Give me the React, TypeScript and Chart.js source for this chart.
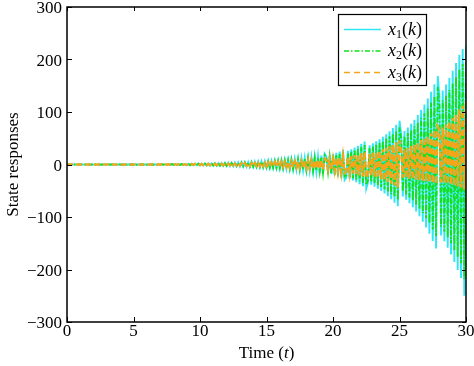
import React, { useEffect, useRef } from "react";
import { Chart, registerables } from "chart.js";

Chart.register(...registerables);

// sampling interval of the simulated discrete signals (time units)
const SAMPLE_STEP = 0.125;

const X_TICKS = [0, 5, 10, 15, 20, 25, 30];
const Y_TICKS = [-300, -200, -100, 0, 100, 200, 300];

// x1(k)
const x1Values = [
  0, 0.2, -0.2, 0.3, -0.3, 0.2, -0.2, 0.3,
  -0.3, 0.2, -0.3, 0.3, -0.2, 0.3, -0.3, 0.2,
  -0.3, 0.3, -0.2, 0.3, -0.3, 0.3, -0.3, 0.2,
  -0.3, 0.4, -0.3, 0.3, -0.4, 0.3, -0.4, 0.4,
  -0.3, 0.4, -0.4, 0.3, -0.4, 0.4, -0.3, 0.4,
  -0.4, 0.5, -0.4, 0.4, -0.5, 0.4, -0.5, 0.5,
  -0.4, 0.5, -0.5, 0.6, -0.5, 0.5, -0.6, 0.5,
  -0.6, 0.7, -0.6, 0.6, -0.7, 0.6, -0.7, 0.8,
  -0.7, 0.8, -0.9, 0.8, -0.9, 1.0, -0.8, 0.9,
  -1.2, 1.3, -1.3, 1.4, -1.4, 1.5, -1.5, 1.6,
  -1.6, 1.7, -1.7, 1.9, -1.8, 2.0, -1.9, 2.1,
  -2.2, 2.4, -2.3, 2.5, -2.4, 2.7, -2.6, 2.8,
  -2.9, 3.1, -3.0, 3.3, -3.2, 3.6, -3.4, 3.8,
  -3.7, 4.0, -3.9, 4.3, -4.1, 4.6, -4.4, 4.9,
  -4.8, 5.2, -5.0, 5.5, -5.3, 5.9, -5.6, 6.2,
  -6.1, 6.6, -6.4, 7.0, -6.7, 7.4, -7.1, 7.8,
  -7.6, 8.3, -8.0, 8.8, -8.4, 9.3, -8.9, 9.8,
  -9.5, 10.4, -10.0, 11.0, -10.6, 11.7, -11.2, 12.3,
  -12.0, 13.0, -12.6, 13.8, -13.3, 14.6, -14.1, 15.5,
  -15.5, 17.0, -18.0, 20.5, 15.5, -16.5, 17.5, -18.6,
  19.7, -20.9, 22.1, -23.4, 24.8, -26.3, 27.9, -29.6,
  -25.0, 26.3, -27.7, 29.1, -30.6, 32.2, -33.9, 35.7,
  -37.5, 39.5, -41.5, 43.7, -46.0, -35.0, 36.7, -38.4,
  40.2, -42.1, 44.0, -46.1, 48.2, -50.5, 52.8, -55.3,
  57.8, -60.5, 63.3, -66.3, 69.3, -72.6, 75.9, -79.5,
  83.2, 58.0, -60.9, 63.9, -67.0, 70.4, -73.9, 77.5,
  -81.4, 85.4, -89.6, 94.1, -98.7, 103.6, -108.8, 114.2,
  -119.8, 125.8, -132.0, 138.6, -145.5, 152.7, -160.2, 168.2,
  130.0, -135.3, 140.7, -146.4, 152.3, -158.5, 164.9, -171.5,
  178.4, -185.6, 193.1, -200.9, 209.0, -216.0, 220.0, -250.0,
  226.0,
];

// x2(k)
const x2Values = [
  0, 0.2, -0.2, 0.2, -0.2, 0.3, -0.2, 0.2,
  -0.2, 0.3, -0.2, 0.2, -0.3, 0.2, -0.2, 0.3,
  -0.2, 0.2, -0.3, 0.2, -0.2, 0.3, -0.2, 0.3,
  -0.3, 0.3, -0.2, 0.3, -0.3, 0.3, -0.3, 0.3,
  -0.3, 0.3, -0.3, 0.4, -0.3, 0.3, -0.4, 0.3,
  -0.3, 0.4, -0.4, 0.3, -0.4, 0.4, -0.4, 0.4,
  -0.4, 0.4, -0.5, 0.4, -0.5, 0.5, -0.4, 0.5,
  -0.5, 0.6, -0.5, 0.6, -0.6, 0.5, -0.6, 0.7,
  -0.6, 0.7, -0.7, 0.8, -0.7, 0.8, -0.8, 0.8,
  -1.0, 1.1, -1.1, 1.2, -1.2, 1.3, -1.3, 1.4,
  -1.4, 1.5, -1.5, 1.6, -1.6, 1.7, -1.7, 1.8,
  -1.9, 2.0, -2.0, 2.2, -2.0, 2.3, -2.2, 2.4,
  -2.4, 2.7, -2.6, 2.8, -2.7, 3.0, -2.9, 3.2,
  -3.2, 3.4, -3.3, 3.7, -3.5, 3.9, -3.8, 4.1,
  -4.1, 4.4, -4.3, 4.6, -4.5, 5.0, -4.8, 5.3,
  -5.2, 5.6, -5.4, 6.0, -5.7, 6.3, -6.0, 6.6,
  -6.5, 7.0, -6.8, 7.5, -7.1, 7.9, -7.6, 8.3,
  -8.1, 8.8, -8.5, 9.3, -9.0, 9.9, -9.5, 10.5,
  -10.2, 11.0, -10.7, 11.7, -11.3, 12.4, -12.0, 13.2,
  -13.2, 14.5, -15.3, 17.4, 13.2, -14.0, 14.9, -15.8,
  16.7, -17.8, 18.8, -19.9, 21.1, -22.4, 23.7, -25.2,
  -21.3, 22.4, -23.5, 24.7, -26.0, 27.4, -28.8, 30.3,
  -31.9, 33.6, -35.3, 37.1, -39.1, -29.8, 31.2, -32.6,
  34.2, -35.8, 37.4, -39.2, 41.0, -42.9, 44.9, -47.0,
  49.1, -51.4, 53.8, -56.4, 58.9, -61.7, 64.5, -67.6,
  70.7, 49.3, -51.8, 54.3, -57.0, 59.8, -62.8, 65.9,
  -69.2, 72.6, -76.2, 80.0, -83.9, 88.1, -92.5, 97.1,
  -101.8, 106.9, -112.2, 117.8, -123.7, 129.8, -136.2, 148.0,
  112.0, -118.0, 122.0, -128.0, 131.0, -139.0, 142.0, -150.0,
  154.0, -163.0, 167.0, -176.0, 181.0, -188.0, 192.0, -218.0,
  205.0,
];

// x3(k)
const x3Values = [
  0, 0.1, -0.1, 0.2, -0.1, 0.1, -0.2, 0.1,
  -0.1, 0.2, -0.1, 0.1, -0.2, 0.1, -0.1, 0.2,
  -0.2, 0.1, -0.2, 0.2, -0.1, 0.2, -0.2, 0.1,
  -0.2, 0.2, -0.2, 0.2, -0.2, 0.2, -0.2, 0.2,
  -0.2, 0.2, -0.2, 0.3, -0.2, 0.2, -0.3, 0.2,
  -0.2, 0.3, -0.3, 0.2, -0.3, 0.3, -0.3, 0.3,
  -0.3, 0.3, -0.3, 0.3, -0.4, 0.3, -0.3, 0.4,
  -0.3, 0.4, -0.4, 0.4, -0.4, 0.4, -0.4, 0.5,
  -0.4, 0.5, -0.5, 0.5, -0.5, 0.5, -0.5, 0.6,
  -0.7, 0.7, -0.7, 0.8, -0.8, 0.8, -0.9, 0.9,
  -0.9, 1.0, -1.0, 1.1, -1.0, 1.2, -1.1, 1.2,
  -1.2, 1.3, -1.3, 1.4, -1.3, 1.5, -1.4, 1.5,
  -1.6, 1.7, -1.7, 1.8, -1.8, 2.0, -1.9, 2.1,
  -2.0, 2.2, -2.1, 2.4, -2.3, 2.5, -2.4, 2.7,
  -2.6, 2.9, -2.8, 3.0, -2.9, 3.2, -3.1, 3.4,
  -3.4, 3.6, -3.5, 3.9, -3.7, 4.1, -3.9, 4.3,
  -4.2, 4.6, -4.4, 4.8, -4.6, 5.1, -4.9, 5.4,
  -5.2, 5.7, -5.5, 6.0, -5.8, 6.4, -6.2, 6.8,
  -6.6, 7.2, -6.9, 7.6, -7.3, 8.0, -7.8, 8.5,
  -8.5, 9.4, -9.9, 11.3, 8.5, -9.1, 9.6, -10.2,
  10.8, -11.5, 12.2, -12.9, 13.6, -14.5, 15.3, -16.3,
  -13.8, 14.5, -15.2, 16.0, -16.8, 17.7, -18.6, 19.6,
  -20.6, 21.7, -22.8, 24.0, -25.3, -19.3, 20.2, -21.1,
  22.1, -23.2, 24.2, -25.4, 26.5, -27.8, 29.0, -30.4,
  31.8, -33.3, 34.8, -36.5, 38.1, -39.9, 41.7, -43.7,
  45.8, 26.1, -25.3, 28.8, -26.0, 31.7, -26.9, 34.9,
  -27.8, 38.4, -28.8, 42.3, -29.8, 46.6, -31.1, 51.4,
  -32.4, 54.1, -33.8, 59.6, -35.5, 65.7, -37.2, 72.3,
  65.0, -34.2, 70.4, -35.6, 76.2, -37.0, 82.5, -38.6,
  89.2, -40.3, 96.6, -42.1, 104.5, -43.9, 112.0, -48.0,
  120.0,
];

const SERIES_SUBSCRIPTS = ["1", "2", "3"];
const SERIES_COLORS = ["#30e6f4", "#10e020", "#f5a51a"];
const SERIES_DASHES: number[][] = [[], [5, 2, 1.5, 2], [6, 3]];
const SERIES_WIDTHS = [1.9, 1.9, 2.3];

const X_TITLE = ["Time (", "t", ")"];
const Y_TITLE = "State responses";

const FONT = '"Liberation Serif", "Times New Roman", serif';

function toPoints(values: number[]) {
  return values.map((v, i) => ({ x: i * SAMPLE_STEP, y: v }));
}

function fmt(v: number) {
  return v < 0 ? "\u2212" + Math.abs(v) : String(v);
}

type Run = { text: string; font: string; dy?: number };

function runsWidth(ctx: CanvasRenderingContext2D, runs: Run[]) {
  let w = 0;
  for (const r of runs) {
    ctx.font = r.font;
    w += ctx.measureText(r.text).width;
  }
  return w;
}

function drawRuns(ctx: CanvasRenderingContext2D, runs: Run[], x: number, y: number) {
  let cx = x;
  ctx.textAlign = "left";
  ctx.textBaseline = "alphabetic";
  for (const r of runs) {
    ctx.font = r.font;
    ctx.fillText(r.text, cx, y + (r.dy || 0));
    cx += ctx.measureText(r.text).width;
  }
}

const decorPlugin = {
  id: "decor",
  afterDatasetsDraw(chart: any) {
    const { ctx, chartArea: a, scales } = chart;
    const xs = scales.x;
    const ys = scales.y;
    ctx.save();
    ctx.strokeStyle = "#000";
    ctx.lineWidth = 1;
    ctx.setLineDash([]);
    ctx.beginPath();
    xs.ticks.forEach((t: any) => {
      const px = Math.round(xs.getPixelForValue(t.value)) + 0.5;
      ctx.moveTo(px, a.bottom);
      ctx.lineTo(px, a.bottom - 5);
      ctx.moveTo(px, a.top);
      ctx.lineTo(px, a.top + 4);
    });
    ys.ticks.forEach((t: any) => {
      const py = Math.round(ys.getPixelForValue(t.value)) + 0.5;
      ctx.moveTo(a.left, py);
      ctx.lineTo(a.left + 5, py);
      ctx.moveTo(a.right, py);
      ctx.lineTo(a.right - 4, py);
    });
    ctx.stroke();
    ctx.lineWidth = 1.5;
    ctx.strokeRect(a.left, a.top, a.right - a.left, a.bottom - a.top);

    // tick labels
    ctx.fillStyle = "#000";
    ctx.font = "17px " + FONT;
    ctx.textAlign = "center";
    ctx.textBaseline = "alphabetic";
    xs.ticks.forEach((t: any) => {
      ctx.fillText(fmt(t.value), xs.getPixelForValue(t.value), a.bottom + 14);
    });
    ctx.textAlign = "right";
    ys.ticks.forEach((t: any) => {
      ctx.fillText(fmt(t.value), a.left - 5, ys.getPixelForValue(t.value) + 6);
    });

    // axis titles
    const reg = "17px " + FONT;
    const ita = "italic 17px " + FONT;
    const xRuns: Run[] = [
      { text: X_TITLE[0], font: reg },
      { text: X_TITLE[1], font: ita },
      { text: X_TITLE[2], font: reg },
    ];
    const xw = runsWidth(ctx, xRuns);
    const xc = (a.left + a.right) / 2;
    drawRuns(ctx, xRuns, xc - xw / 2, 358);

    ctx.save();
    ctx.translate(14, (a.top + a.bottom) / 2);
    ctx.rotate(-Math.PI / 2);
    ctx.font = reg;
    ctx.textAlign = "center";
    ctx.textBaseline = "middle";
    ctx.fillText(Y_TITLE, 0, 0);
    ctx.restore();

    // legend
    const bx = 338.5, by = 14.5, bw = 88, bh = 71;
    ctx.fillStyle = "#fff";
    ctx.fillRect(bx, by, bw, bh);
    ctx.strokeStyle = "#000";
    ctx.lineWidth = 1.2;
    ctx.strokeRect(bx, by, bw, bh);
    const rows = [29.5, 51, 72.5];
    const lreg = "18px " + FONT;
    const lita = "italic 18px " + FONT;
    const lsub = "12px " + FONT;
    SERIES_SUBSCRIPTS.forEach((sub, i) => {
      ctx.strokeStyle = SERIES_COLORS[i];
      ctx.lineWidth = 1.6;
      ctx.setLineDash(i === 2 ? [6, 4] : SERIES_DASHES[i]);
      ctx.beginPath();
      ctx.moveTo(344, rows[i]);
      ctx.lineTo(381, rows[i]);
      ctx.stroke();
      ctx.setLineDash([]);
      ctx.fillStyle = "#000";
      drawRuns(
        ctx,
        [
          { text: "x", font: lita },
          { text: sub, font: lsub, dy: 3 },
          { text: "(", font: lreg },
          { text: "k", font: lita },
          { text: ")", font: lreg },
        ],
        388,
        rows[i] + 5
      );
    });
    ctx.restore();
  },
};

export default function App() {
  const ref = useRef<HTMLCanvasElement | null>(null);
  useEffect(() => {
    document.body.style.margin = "0";
    const canvas = ref.current;
    if (!canvas) return;
    const seriesValues = [x1Values, x2Values, x3Values];
    const chart = new Chart(canvas, {
      type: "line",
      data: {
        datasets: seriesValues.map((vals, i) => ({
          label: "x" + SERIES_SUBSCRIPTS[i] + "(k)",
          data: toPoints(vals),
          borderColor: SERIES_COLORS[i],
          backgroundColor: SERIES_COLORS[i],
          borderWidth: SERIES_WIDTHS[i],
          borderDash: SERIES_DASHES[i],
          pointRadius: 0,
          fill: false,
          tension: 0,
          order: 2 - i,
        })),
      },
      options: {
        responsive: false,
        animation: false,
        devicePixelRatio: 1,
        layout: { padding: { top: 7, right: 8, left: 0, bottom: 0 } },
        plugins: { legend: { display: false }, tooltip: { enabled: false } },
        scales: {
          x: {
            type: "linear",
            min: X_TICKS[0],
            max: X_TICKS[X_TICKS.length - 1],
            ticks: { stepSize: X_TICKS[1] - X_TICKS[0], display: false },
            grid: { display: false, drawTicks: false },
            border: { display: false },
            afterFit: (s: any) => {
              s.height = 44;
            },
          },
          y: {
            type: "linear",
            min: Y_TICKS[0],
            max: Y_TICKS[Y_TICKS.length - 1],
            ticks: { stepSize: Y_TICKS[1] - Y_TICKS[0], display: false },
            grid: { display: false, drawTicks: false },
            border: { display: false },
            afterFit: (s: any) => {
              s.width = 67;
            },
          },
        },
      } as any,
      plugins: [decorPlugin],
    });
    return () => chart.destroy();
  }, []);
  return <canvas ref={ref} width={474} height={366} style={{ display: "block" }} />;
}
